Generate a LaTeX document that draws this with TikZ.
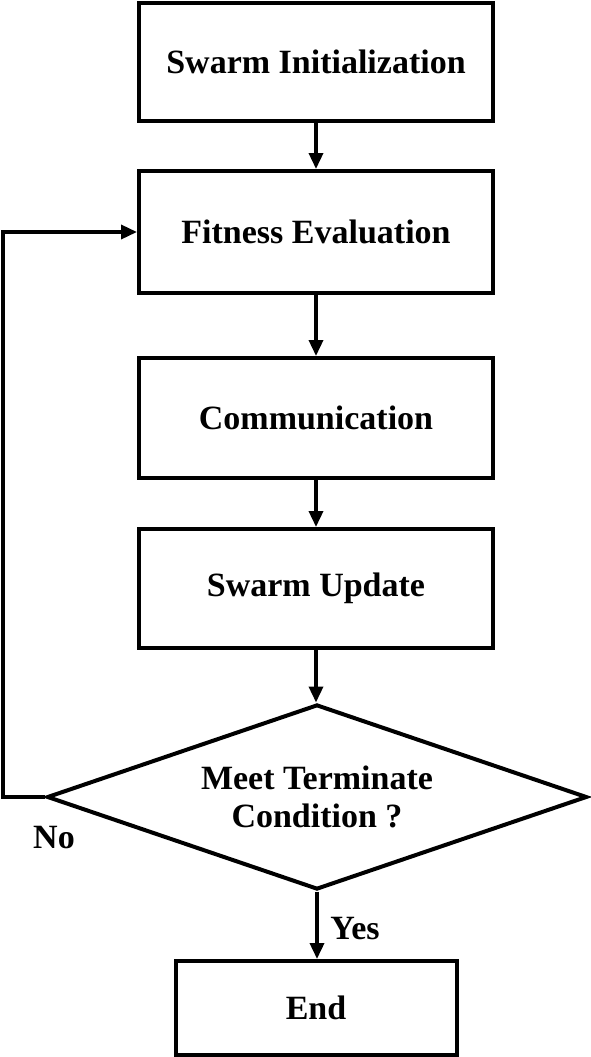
\documentclass[tikz,border=0pt]{standalone}
\usepackage{fontspec}
\setmainfont{Liberation Serif}
\usetikzlibrary{positioning,shapes.geometric,arrows.meta}

\begin{document}
\begin{tikzpicture}[
        stepbox/.style={rectangle, draw, line width=4pt, minimum width=354pt, font=\fontsize{34}{38}\selectfont\bfseries},
        checkbox/.style={diamond, draw, line width=4pt, aspect=2.92, inner sep=0pt, minimum width=540pt, minimum height=185pt, align=center, font=\fontsize{34}{38}\selectfont\bfseries},
        flow/.style={line width=3.5pt, -{Triangle[length=16pt,width=14pt]}},
        answer/.style={font=\fontsize{34}{38}\selectfont\bfseries}
    ]
                        \useasboundingbox (0pt,0pt) rectangle (591pt,-1057pt);
                        \node[stepbox, minimum height=118pt]
                            (ini) at (316pt,-62pt) {Swarm Initialization};
                        \node[stepbox, minimum height=122pt]
                            (fit) at (316pt,-232pt) {Fitness Evaluation};
                        \node[stepbox, minimum height=120pt]
                            (com) at (316pt,-418pt) {Communication};
                        \node[stepbox, minimum height=119pt]
                            (upd) at (316pt,-588.5pt) {Swarm Update};
                        \node[checkbox]
                            (cond) at (317pt,-797pt) {Meet Terminate\\Condition ?};
                        \node[stepbox, minimum width=281pt, minimum height=94pt]
                            (end) at (316pt,-1008pt) {End};
                        \coordinate (back) at (3pt,-797pt);
                        \draw[flow] (ini) -- (fit);
                        \draw[flow] (fit) -- (com);
                        \draw[flow] (com) -- (upd);
                        \draw[flow] (upd.south) -- (upd.south |- cond.north);
                        \draw[flow] (cond.south) -- (cond.south |- end.north);
                        \draw[flow] (cond.west) -- (back) |- (fit.west);
                        \node[answer] (no) at (54pt,-838pt) {No};
                        \node[answer] (yes) at (355pt,-929pt) {Yes};
                    \end{tikzpicture}
\end{document}
